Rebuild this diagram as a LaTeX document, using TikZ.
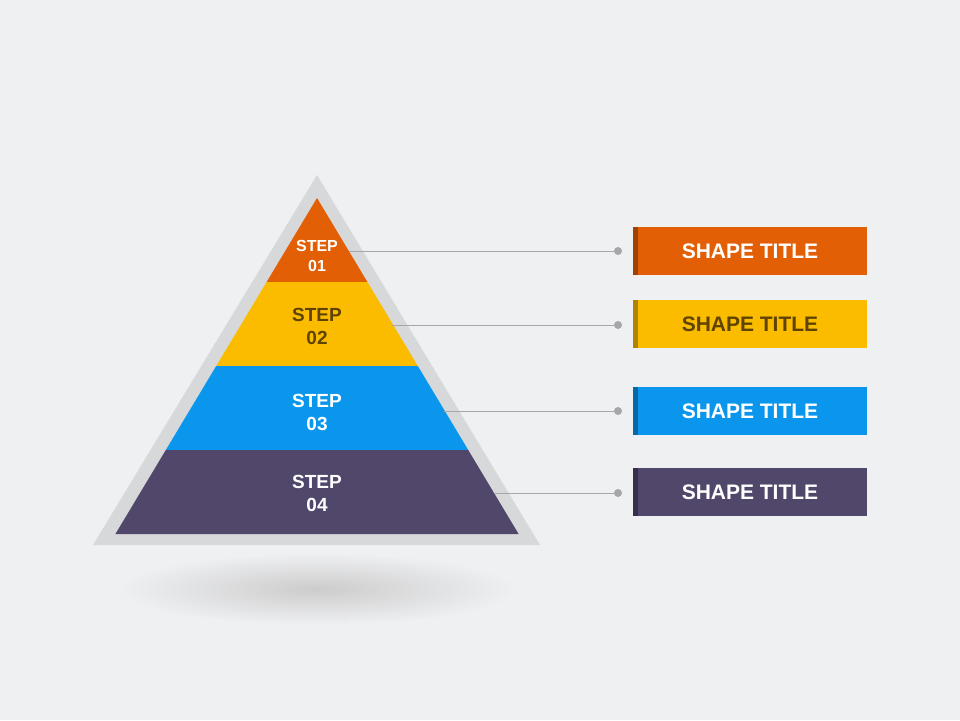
\documentclass[tikz,border=0pt]{standalone}
\usepackage{fontspec}
\setmainfont{Liberation Sans}
\definecolor{bg}{HTML}{EFF0F2}
\definecolor{frame}{HTML}{D7D8DA}
\definecolor{orangeA}{HTML}{E35F06}
\definecolor{orangeB}{HTML}{A04300}
\definecolor{yellowA}{HTML}{FBBC00}
\definecolor{yellowB}{HTML}{B08300}
\definecolor{blueA}{HTML}{0A96EC}
\definecolor{blueB}{HTML}{0768A8}
\definecolor{purpleA}{HTML}{51476A}
\definecolor{purpleB}{HTML}{382F4F}
\definecolor{brown}{HTML}{5E4400}
\definecolor{wire}{HTML}{A6A7A9}
\begin{document}
\begin{tikzpicture}[x=1pt, y=-1pt,
    steptext/.style={font=\bfseries\fontsize{19}{23}\selectfont, align=center, text=white},
    titlebox/.style={minimum width=234pt, minimum height=48pt, inner sep=0pt, font=\bfseries\fontsize{21}{25}\selectfont, text=white},
    dot/.style={circle, fill=wire, inner sep=0pt, minimum size=8pt}]
    \fill[bg] (0,0) rectangle (960,720);
    \useasboundingbox (0,0) rectangle (960,720);

    \shade[inner color=black!20, outer color=bg] (317,589) ellipse (200 and 36);

    \fill[frame] (317,175) -- (540,545) -- (93,545) -- cycle;
    \fill[orangeA] (317,198) -- (367.4,282) -- (266.6,282) -- cycle;
    \fill[yellowA] (266.6,282) -- (367.4,282) -- (417.8,366) -- (216.2,366) -- cycle;
    \fill[blueA] (216.2,366) -- (417.8,366) -- (468.2,450) -- (165.8,450) -- cycle;
    \fill[purpleA] (165.8,450) -- (468.2,450) -- (518.6,534) -- (115.4,534) -- cycle;

    \node[steptext, font=\bfseries\fontsize{16}{20}\selectfont] (s1) at (317,256) {STEP\\01};
    \node[steptext, text=brown] (s2) at (317,326) {STEP\\02};
    \node[steptext] (s3) at (317,412) {STEP\\03};
    \node[steptext] (s4) at (317,493) {STEP\\04};

    \coordinate (e1) at (349,251);
    \coordinate (e2) at (392,325);
    \coordinate (e3) at (444,411);
    \coordinate (e4) at (494,493);
    \node[dot] (d1) at (618,251) {};
    \node[dot] (d2) at (618,325) {};
    \node[dot] (d3) at (618,411) {};
    \node[dot] (d4) at (618,493) {};
    \draw[wire, line width=1pt] (e1) -- (d1);
    \draw[wire, line width=1pt] (e2) -- (d2);
    \draw[wire, line width=1pt] (e3) -- (d3);
    \draw[wire, line width=1pt] (e4) -- (d4);

    \node[titlebox, fill=orangeA] (t1) at (750,251) {SHAPE TITLE};
    \node[titlebox, fill=yellowA, text=brown] (t2) at (750,324) {SHAPE TITLE};
    \node[titlebox, fill=blueA] (t3) at (750,411) {SHAPE TITLE};
    \node[titlebox, fill=purpleA] (t4) at (750,492) {SHAPE TITLE};
    \fill[orangeB] (t1.north west) rectangle ++(5,48);
    \fill[yellowB] (t2.north west) rectangle ++(5,48);
    \fill[blueB] (t3.north west) rectangle ++(5,48);
    \fill[purpleB] (t4.north west) rectangle ++(5,48);
\end{tikzpicture}
\end{document}
